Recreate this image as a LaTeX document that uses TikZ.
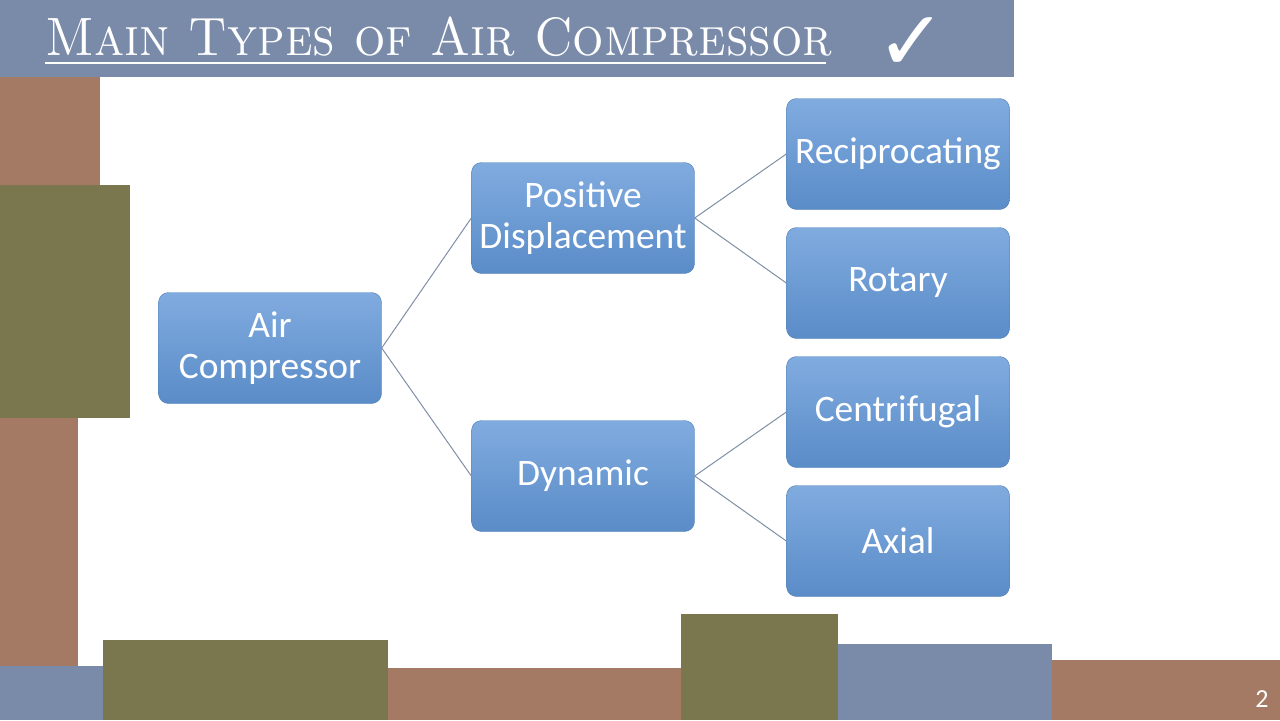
\documentclass[tikz,border=0pt]{standalone}
\usepackage{fontspec}
\usepackage{graphicx}
\newfontfamily\boxfont{Carlito}
\newfontfamily\symfont{DejaVu Sans}
\definecolor{barblue}{HTML}{7A8BAA}
\definecolor{brick}{HTML}{A47A64}
\definecolor{moss}{HTML}{7A774F}
\definecolor{boxtop}{HTML}{80ABDF}
\definecolor{boxbot}{HTML}{5A8CC8}
\definecolor{linkgray}{HTML}{7F8FA6}
\begin{document}
\begin{tikzpicture}[x=0.5pt, y=-0.5pt,
  box/.style={rectangle, rounded corners=5pt, top color=boxtop, bottom color=boxbot,
    draw=boxbot!90!black, line width=0.2pt, minimum width=111.5pt, minimum height=55.5pt,
    inner sep=0pt, align=center, text=white,
    font=\boxfont\fontsize{18.7}{20.5}\selectfont},
  link/.style={draw=linkgray, line width=0.5pt}]
\useasboundingbox (0,0) rectangle (1280,720);

% background blocks
\fill[barblue] (0,0) rectangle (1014,77);
\fill[brick] (0,77) rectangle (100,185);
\fill[moss] (0,185) rectangle (130,418);
\fill[brick] (0,418) rectangle (78,666);
\fill[barblue] (0,666) rectangle (103,720);
\fill[moss] (103,640) rectangle (388,720);
\fill[brick] (388,668) rectangle (681,720);
\fill[moss] (681,614) rectangle (838,720);
\fill[barblue] (838,644) rectangle (1052,720);
\fill[brick] (1052,660) rectangle (1280,720);

% title
\node[anchor=base west, inner sep=0pt, text=white, font=\fontsize{27}{30}\selectfont\scshape] (title) at (45,55) {\scalebox{0.915}[1]{Main Types of Air Compressor}};
\draw[white, line width=1pt] (45,63) -- (826,63);
\node[text=white, font=\symfont\fontsize{42}{42}\selectfont] (tick) at (912,44) {✓};
\node[text=white, font=\boxfont\fontsize{13}{14}\selectfont] (pnum) at (1262,699) {2};

% tree
\node[box] (air) at (270,348) {Air\\Compressor};
\node[box] (pos) at (583,218) {Positive\\Displacement};
\node[box] (dyn) at (583,476) {Dynamic};
\node[box] (rec) at (898,154) {Reciprocating};
\node[box] (rot) at (898,283) {Rotary};
\node[box] (cen) at (898,412) {Centrifugal};
\node[box] (axi) at (898,541) {Axial};

\draw[link] (air.east) -- (pos.west);
\draw[link] (air.east) -- (dyn.west);
\draw[link] (pos.east) -- (rec.west);
\draw[link] (pos.east) -- (rot.west);
\draw[link] (dyn.east) -- (cen.west);
\draw[link] (dyn.east) -- (axi.west);
\end{tikzpicture}
\end{document}
